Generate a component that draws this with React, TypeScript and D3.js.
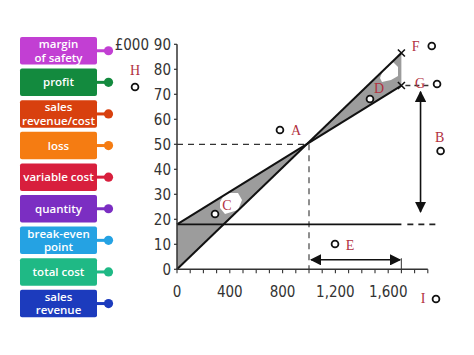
import React from "react";
import * as d3 from "d3";

// ---------- data ----------
const buttonLabels: string[][] = [
  ["margin", "of safety"],
  ["profit"],
  ["sales", "revenue/cost"],
  ["loss"],
  ["variable cost"],
  ["quantity"],
  ["break-even", "point"],
  ["total cost"],
  ["sales", "revenue"],
];
const buttonColors = [
  "#c23fd3",
  "#138a3e",
  "#d8400e",
  "#f57c12",
  "#d81f3d",
  "#7b2ec2",
  "#25a2e3",
  "#1fb985",
  "#1c3bbd",
];

const xTicks = [0, 400, 800, 1200, 1600];
const xTickLabels = ["0", "400", "800", "1,200", "1,600"];
const xMinorTicks = d3.range(0, 1901, 100);
const yTicks = [0, 10, 20, 30, 40, 50, 60, 70, 80, 90];

const revenueLine: [number, number][] = [
  [0, 0],
  [1700, 86.5],
];
const totalCostLine: [number, number][] = [
  [0, 18],
  [1700, 73.5],
];
const fixedCost = 18;
const fixedCostEnd = 1700;
const fixedCostDashed: [number, number] = [1745, 1970];
const breakEvenQty = 1000;
const breakEvenValue = 50;
const safetyArrow: [number, number] = [1000, 1690];
const safetyArrowLevel = 3.8;
const profitArrowQty = 1845;
const profitArrowRange: [number, number] = [71, 23];

// markers: name, x, y (data), label offset
const markerNames = ["A", "B", "C", "D", "E", "F", "G", "H", "I"];
const markerX = [780, 1997, 288, 1462, 1197, 1930, 1970, -318, 1962];
const markerY = [55.7, 47.3, 22.1, 68.1, 10.1, 89.3, 74.1, 72.9, -11.9];
const labelDx = [16, -1, 12, 9, 15, -16, -17, 0, -13];
const labelDy = [0, -14, -9, -11, 1, 0, -1, -17, -1];

export default function App() {
  const x = d3.scaleLinear().domain([0, 1900]).range([177, 427.8]);
  const y = d3.scaleLinear().domain([0, 90]).range([269.3, 44.3]);
  const line = d3
    .line<[number, number]>()
    .x((d) => x(d[0]))
    .y((d) => y(d[1]));

  // break-even intersection
  const rs = (revenueLine[1][1] - revenueLine[0][1]) / (revenueLine[1][0] - revenueLine[0][0]);
  const cs = (totalCostLine[1][1] - totalCostLine[0][1]) / (totalCostLine[1][0] - totalCostLine[0][0]);
  const beQ = (totalCostLine[0][1] - revenueLine[0][1]) / (rs - cs);
  const beV = revenueLine[0][1] + rs * beQ;
  const lossPoly: [number, number][] = [revenueLine[0], totalCostLine[0], [beQ, beV]];
  const profitPoly: [number, number][] = [[beQ, beV], revenueLine[1], totalCostLine[1]];
  const polyPath = (pts: [number, number][]) => line(pts)! + "Z";

  const btnX = 20;
  const btnW = 77;
  const btnH = 27.5;
  const btnTop = 37;
  const btnStep = 31.6;

  const axisColor = "#333";
  const tickFont = "'Liberation Sans Narrow', 'DejaVu Sans Condensed', 'Open Sans', sans-serif";

  const cross = (px: number, py: number, s = 3.5) =>
    `M${px - s},${py - s}L${px + s},${py + s}M${px - s},${py + s}L${px + s},${py - s}`;

  const mC = markerNames.indexOf("C");
  const mD = markerNames.indexOf("D");
  const cLx = x(markerX[mC]) + labelDx[mC];
  const cLy = y(markerY[mC]) + labelDy[mC];
  const dLx = x(markerX[mD]) + labelDx[mD];
  const dLy = y(markerY[mD]) + labelDy[mD];

  return (
    <svg
      width={474}
      height={355}
      style={{ position: "absolute", left: 0, top: 0, background: "#fff" }}
    >
      <defs>
        <marker id="ah" viewBox="0 0 10 10" refX="9" refY="5" markerWidth="7" markerHeight="7" orient="auto-start-reverse">
          <path d="M0,0L10,5L0,10Z" fill="#111" />
        </marker>
      </defs>

      {/* buttons */}
      {buttonLabels.map((lab, i) => {
        const top = btnTop + i * btnStep;
        const cy = top + btnH / 2;
        return (
          <g key={i}>
            <line x1={btnX + btnW} x2={108} y1={cy} y2={cy} stroke={buttonColors[i]} strokeWidth={3} />
            <circle cx={108.5} cy={cy} r={4.6} fill={buttonColors[i]} />
            <rect x={btnX} y={top} width={btnW} height={btnH} rx={2} fill={buttonColors[i]} />
            {lab.map((t, j) => (
              <text
                key={j}
                x={btnX + btnW / 2}
                y={cy + (j - (lab.length - 1) / 2) * 13.5 + 4.1}
                textAnchor="middle"
                fill="#fff"
                fontSize={11.5}
                fontWeight={600}
                fontFamily="'Open Sans', sans-serif"
              >
                {t}
              </text>
            ))}
          </g>
        );
      })}

      {/* shaded areas */}
      <path d={polyPath(lossPoly)} fill="#9c9c9c" />
      <path d={polyPath(profitPoly)} fill="#9c9c9c" />

      {/* white blobs */}
      <path
        d={`M${cLx - 7},${cLy - 3}L${cLx - 2},${cLy - 12}L${cLx + 11},${cLy - 12}L${cLx + 15},${cLy - 5}L${cLx + 11},${cLy + 5}L${cLx - 2},${cLy + 9}L${cLx - 7},${cLy + 3}Z`}
        fill="#fff"
      />
      <path
        d={`M${dLx + 1},${dLy - 10}L${dLx + 5},${dLy - 20}L${dLx + 14},${dLy - 26}L${dLx + 19},${dLy - 21}L${dLx + 19},${dLy - 12}L${dLx + 12},${dLy - 8}L${dLx + 3},${dLy - 6}Z`}
        fill="#fff"
      />

      {/* dashed guides */}
      <line x1={x(0)} x2={x(breakEvenQty)} y1={y(breakEvenValue)} y2={y(breakEvenValue)} stroke="#333" strokeWidth={1.2} strokeDasharray="6,5" />
      <line x1={x(breakEvenQty)} x2={x(breakEvenQty)} y1={y(breakEvenValue)} y2={y(0)} stroke="#444" strokeWidth={1.2} strokeDasharray="6,5" />
      <line x1={x(totalCostLine[1][0]) + 4} x2={x(fixedCostDashed[1]) - 6} y1={y(totalCostLine[1][1])} y2={y(totalCostLine[1][1])} stroke="#333" strokeWidth={1.4} strokeDasharray="5,4" />
      <line x1={x(fixedCostDashed[0])} x2={x(fixedCostDashed[1])} y1={y(fixedCost)} y2={y(fixedCost)} stroke="#222" strokeWidth={1.8} strokeDasharray="6,5" />

      {/* lines */}
      <line x1={x(0)} x2={x(fixedCostEnd)} y1={y(fixedCost)} y2={y(fixedCost)} stroke="#111" strokeWidth={1.8} />
      <path d={line(revenueLine)!} stroke="#111" strokeWidth={2} fill="none" />
      <path d={line(totalCostLine)!} stroke="#111" strokeWidth={2} fill="none" />
      <path d={cross(x(revenueLine[1][0]), y(revenueLine[1][1]))} stroke="#111" strokeWidth={1.6} />
      <path d={cross(x(totalCostLine[1][0]), y(totalCostLine[1][1]))} stroke="#111" strokeWidth={1.6} />

      {/* arrows */}
      <line
        x1={x(safetyArrow[0]) + 2}
        x2={x(safetyArrow[1])}
        y1={y(safetyArrowLevel)}
        y2={y(safetyArrowLevel)}
        stroke="#111"
        strokeWidth={1.6}
        markerStart="url(#ah)"
        markerEnd="url(#ah)"
      />
      <line
        x1={x(profitArrowQty)}
        x2={x(profitArrowQty)}
        y1={y(profitArrowRange[0])}
        y2={y(profitArrowRange[1])}
        stroke="#111"
        strokeWidth={1.6}
        markerStart="url(#ah)"
        markerEnd="url(#ah)"
      />
      <line x1={x(1700)} x2={x(1700)} y1={y(0)} y2={y(0) - 11} stroke="#555" strokeWidth={1.2} />

      {/* axes */}
      <line x1={x(0)} x2={x(0)} y1={y(0)} y2={y(90)} stroke={axisColor} strokeWidth={1.5} />
      <line x1={x(0)} x2={x(1900)} y1={y(0)} y2={y(0)} stroke={axisColor} strokeWidth={1.5} />
      {yTicks.map((t) => (
        <g key={t}>
          <line x1={x(0) - 3} x2={x(0)} y1={y(t)} y2={y(t)} stroke={axisColor} strokeWidth={1.2} />
          <text x={171} y={y(t) + 5.5} textAnchor="end" fontSize={15} fill="#333" fontFamily={tickFont}>
            {t}
          </text>
        </g>
      ))}
      <text x={149} y={y(90) + 5.5} textAnchor="end" fontSize={15} fill="#333" fontFamily={tickFont}>
        £000
      </text>
      {xMinorTicks.map((t) => (
        <line key={t} x1={x(t)} x2={x(t)} y1={y(0)} y2={y(0) + 4} stroke={axisColor} strokeWidth={1.1} />
      ))}
      {xTicks.map((t, i) => (
        <text key={t} x={x(t)} y={297} textAnchor="middle" fontSize={15} fill="#333" fontFamily={tickFont}>
          {xTickLabels[i]}
        </text>
      ))}

      {/* markers */}
      {markerNames.map((n, i) => {
        const cx = x(markerX[i]);
        const cy = y(markerY[i]);
        return (
          <g key={n}>
            <circle cx={cx} cy={cy} r={3.4} fill="#fff" stroke="#111" strokeWidth={1.8} />
            <text
              x={cx + labelDx[i]}
              y={cy + labelDy[i] + 5}
              textAnchor="middle"
              fontSize={14}
              fill="#b2313f"
              fontFamily="'Liberation Serif', 'DejaVu Serif', serif"
            >
              {n}
            </text>
          </g>
        );
      })}
    </svg>
  );
}
